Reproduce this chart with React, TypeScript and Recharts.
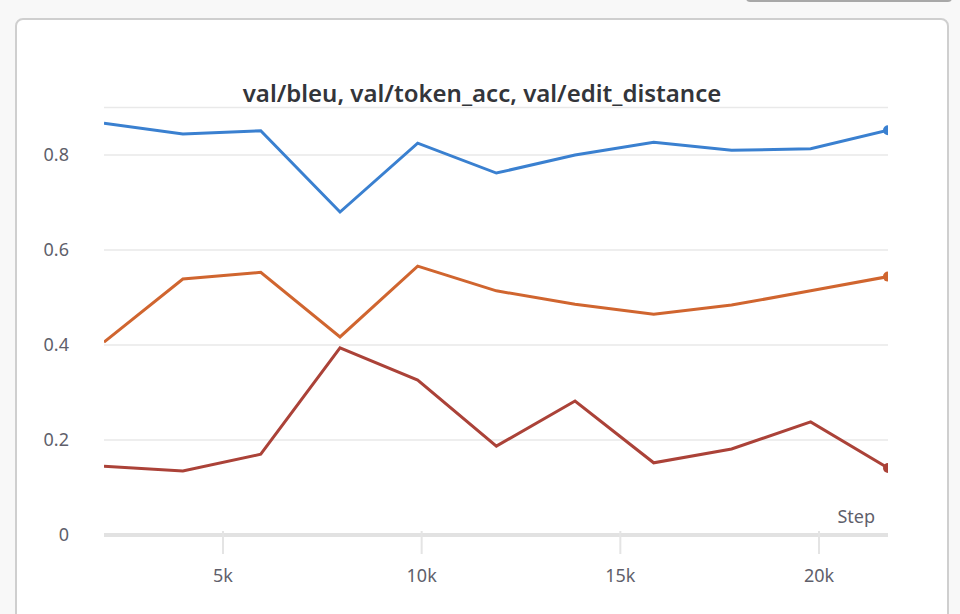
import React from 'react';
import { LineChart, Line, XAxis, YAxis, CartesianGrid } from 'recharts';

const steps = [2005, 3990, 5950, 7945, 9900, 11880, 13860, 15840, 17800, 19790, 21737];
const bleu = [0.867, 0.844, 0.851, 0.68, 0.825, 0.762, 0.8, 0.827, 0.81, 0.813, 0.852];
const tokenAcc = [0.406, 0.539, 0.553, 0.417, 0.566, 0.514, 0.486, 0.465, 0.484, 0.514, 0.544];
const editDistance = [0.145, 0.135, 0.17, 0.394, 0.326, 0.187, 0.282, 0.152, 0.181, 0.238, 0.141];
const xTicks = [5000, 10000, 15000, 20000];
const yTicks = [0, 0.2, 0.4, 0.6, 0.8];
const title = 'val/bleu, val/token_acc, val/edit_distance';

const data = steps.map((step, i) => ({
  step,
  bleu: bleu[i],
  tokenAcc: tokenAcc[i],
  editDistance: editDistance[i],
}));

const FONT = '"Noto Sans", sans-serif';
const TEXT = '#5f5f6b';

const lastDot = (color: string) => (props: any) => {
  if (props.index !== data.length - 1) return <g key={props.index} />;
  return <circle key={props.index} cx={props.cx} cy={props.cy} r={5} fill={color} stroke="none" />;
};

const XTick = (props: any) => {
  const { x, y, payload } = props;
  return (
    <g>
      <line x1={x} x2={x} y1={y - 12} y2={y + 11} stroke="#e4e4e4" strokeWidth={2} />
      <text x={x} y={y + 39} textAnchor="middle" fontSize={18} fontFamily={FONT} fill={TEXT}>
        {payload.value / 1000}k
      </text>
    </g>
  );
};

const StepLabel = (props: any) => {
  const { viewBox } = props;
  return (
    <text x={viewBox.x + viewBox.width - 13} y={523} textAnchor="end" fontSize={18} fontFamily={FONT} fill={TEXT}>
      Step
    </text>
  );
};

export default function App() {
  return (
    <div style={{ position: 'fixed', left: 0, top: 0, width: 960, height: 614, background: '#f8f8f8', overflow: 'hidden' }}>
      <div style={{ position: 'absolute', left: 746, top: -6, width: 206, height: 8, background: '#a8a8a8', borderRadius: 4 }} />
      <div style={{ position: 'absolute', left: 15, top: 18, width: 930, height: 620, background: '#fff', border: '2px solid #cfcfcf', borderRadius: 8 }} />
      <div style={{ position: 'absolute', left: 0, width: 964, top: 76, textAlign: 'center', fontFamily: FONT, fontSize: 24, fontWeight: 600, color: '#33353a', whiteSpace: 'nowrap' }}>
        {title}
      </div>
      <div style={{ position: 'absolute', left: 0, top: 0 }}>
        <LineChart width={960} height={614} data={data} margin={{ top: 107.5, right: 72, bottom: 0, left: 0 }}>
          <CartesianGrid horizontal vertical={false} stroke="#e9e9e9" strokeWidth={1.5} />
          <XAxis
            dataKey="step"
            type="number"
            domain={[2005, 21737]}
            ticks={xTicks}
            height={79}
            tickLine={false}
            axisLine={{ stroke: '#e2e2e2', strokeWidth: 4 }}
            tick={<XTick />}
            label={<StepLabel />}
            allowDataOverflow
          />
          <YAxis
            type="number"
            domain={[0, 0.9]}
            ticks={yTicks}
            width={104}
            tickLine={false}
            axisLine={false}
            tickMargin={29}
            tick={{ fontSize: 18, fontFamily: FONT, fill: TEXT }}
            tickFormatter={(v: number) => String(v)}
          />
          <Line dataKey="bleu" stroke="#3a80d0" strokeWidth={3} dot={lastDot('#3a80d0')} activeDot={false} isAnimationActive={false} />
          <Line dataKey="tokenAcc" stroke="#d0652f" strokeWidth={3} dot={lastDot('#d0652f')} activeDot={false} isAnimationActive={false} />
          <Line dataKey="editDistance" stroke="#ab4238" strokeWidth={3} dot={lastDot('#ab4238')} activeDot={false} isAnimationActive={false} />
        </LineChart>
      </div>
    </div>
  );
}
